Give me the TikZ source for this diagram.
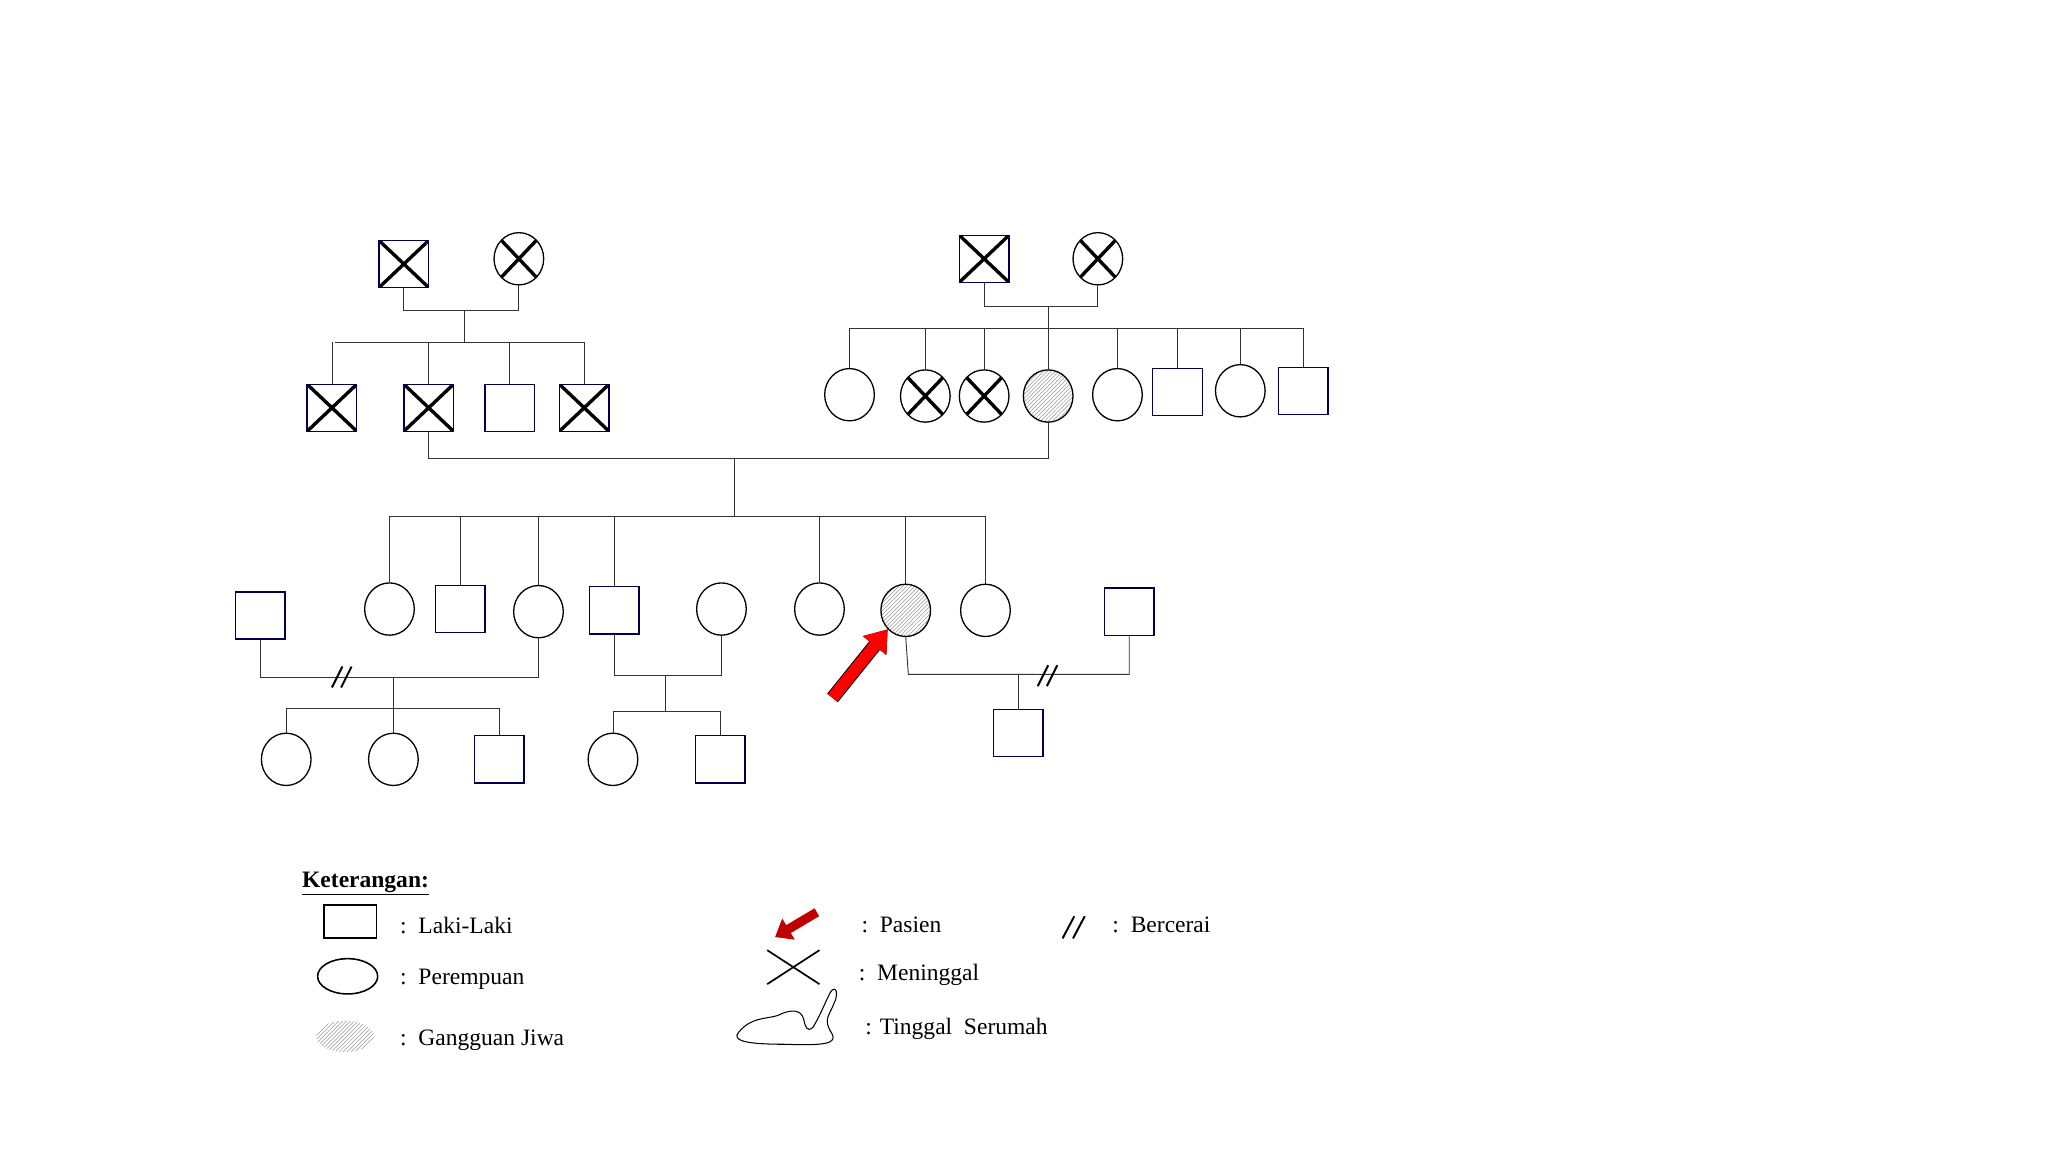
\documentclass[tikz,border=0pt]{standalone}
\usepackage{fontspec}
\setmainfont{Liberation Serif}
\usetikzlibrary{patterns,arrows.meta,shapes.geometric}
\begin{document}
\begin{tikzpicture}[x=1pt,y=-1pt,
  m/.style={draw=blue!30!black,line width=1pt,minimum width=38pt,minimum height=36pt,inner sep=0pt},
  f/.style={draw=black,line width=1pt,ellipse,minimum width=38pt,minimum height=40pt,inner sep=0pt},
  dead/.style={path picture={\draw[black,line width=2.6pt] (path picture bounding box.north west)--(path picture bounding box.south east) (path picture bounding box.north east)--(path picture bounding box.south west);}},
  ill/.style={pattern=north east lines,pattern color=gray!80},
  ln/.style={draw=black!80,line width=0.7pt},
  txt/.style={font=\fontsize{18}{20}\selectfont,anchor=west,inner sep=0pt},
  redarrow/.style={-{Triangle[length=16pt,width=22pt]},line width=9pt}]
\useasboundingbox (0,0) rectangle (1567,881.4);
% generation 1
\node[m,dead] (g1) at (309,202) {};
\node[f,dead] (g2) at (397,198) {};
\node[m,dead] (g3) at (753,198) {};
\node[f,dead] (g4) at (840,198) {};
% generation 2 left
\node[m,dead] (a1) at (254,312) {};
\node[m,dead] (a2) at (328,312) {};
\node[m] (a3) at (390,312) {};
\node[m,dead] (a4) at (447,312) {};
% generation 2 right
\node[f] (b1) at (650,302) {};
\node[f,dead] (b2) at (708,303) {};
\node[f,dead] (b3) at (753,303) {};
\node[f,ill] (b4) at (802,303) {};
\node[f] (b5) at (855,302) {};
\node[m] (b6) at (901,300) {};
\node[f] (b7) at (949,299) {};
\node[m] (b8) at (997,299) {};
% generation 3
\node[f] (c1) at (298,466) {};
\node[m] (c2) at (352,466) {};
\node[f] (c3) at (412,468) {};
\node[m] (c4) at (470,467) {};
\node[f] (c5) at (627,466) {};
\node[f,ill] (c6) at (693,467) {};
\node[f] (c7) at (754,467) {};
\node[m] (s1) at (199,471) {};
\node[f] (s2) at (552,466) {};
\node[m] (s3) at (864,468) {};
% generation 4
\node[f] (d1) at (219,581) {};
\node[f] (d2) at (301,581) {};
\node[m] (d3) at (382,581) {};
\node[f] (d4) at (469,581) {};
\node[m] (d5) at (551,581) {};
\node[m] (d6) at (779,561) {};
% junction coordinates
\coordinate (j1) at (355,238);
\coordinate (j2) at (802,234);
\coordinate (j3) at (562,351);
\coordinate (j4) at (301,518);
\coordinate (j5) at (509,517);
\coordinate (j6) at (779,516);
% gen1 left
\draw[ln] (g1.south) -- ++(0,17) -| (g2.south);
\draw[ln] (j1) -- (355,262);
\draw[ln] (256,262) -- (447,262);
\foreach \n in {a1,a2,a3,a4} \draw[ln] (\n.north) -- (\n.north |- 0,262);
% gen1 right
\draw[ln] (g3.south) -- ++(0,18) -| (g4.south);
\draw[ln] (j2) -- (802,251);
\draw[ln] (650,251) -- (997,251);
\foreach \n in {b1,b2,b3,b4,b5,b6,b7,b8} \draw[ln] (\n.north) -- (\n.north |- 0,251);
% marriage gen2
\draw[ln] (a2.south) -- (328,351) -- (802,351) -- (b4.south);
\draw[ln] (j3) -- (562,395);
\draw[ln] (298,395) -- (754,395);
\foreach \n in {c1,c2,c3,c4,c5,c6,c7} \draw[ln] (\n.north) -- (\n.north |- 0,395);
% marriage 1 (divorced)
\draw[ln] (s1.south) -- (199,518) -- (412,518) -- (c3.south);
\draw[line width=1.5pt] (254,526) -- (262,510) (261,526) -- (269,510);
\draw[ln] (j4) -- (301,542);
\draw[ln] (219,542) -- (382,542);
\foreach \n in {d1,d2,d3} \draw[ln] (\n.north) -- (\n.north |- 0,542);
% marriage 2
\draw[ln] (c4.south) -- (470,517) -- (s2.south |- 0,517) -- (s2.south);
\draw[ln] (j5) -- (509,544);
\draw[ln] (469,544) -- (551,544);
\foreach \n in {d4,d5} \draw[ln] (\n.north) -- (\n.north |- 0,544);
% marriage 3 (divorced)
\draw[ln] (c6.south) -- (695,516) -- (864,516) -- (s3.south);
\draw[line width=1.5pt] (794,525) -- (802,509) (801,525) -- (809,509);
\draw[ln] (j6) -- (d6.north);
% patient arrow
\coordinate (pa) at (637,534);
\draw[redarrow,draw=black,line width=10.5pt] (pa) -- (c6.south west);
\draw[redarrow,red] (pa) -- (c6.south west);
% legend
\node[txt,font=\fontsize{18}{20}\selectfont\bfseries] (k) at (231,676) {\underline{Keterangan:}};
\node[draw,line width=1.2pt,minimum width=40pt,minimum height=25pt,inner sep=0pt] (l1) at (268,705) {};
\node[txt] (t1) at (306,708) {:\ \ Laki-Laki};
\node[draw,ellipse,line width=1.2pt,minimum width=46pt,minimum height=27pt,inner sep=0pt] (l2) at (266,747) {};
\node[txt] (t2) at (306,749) {:\ \ Perempuan};
\node[ellipse,ill,minimum width=44pt,minimum height=24pt,inner sep=0pt] (l3) at (264,793) {};
\node[txt] (t3) at (306,796) {:\ \ Gangguan Jiwa};
\coordinate (pa2) at (625,698);
\coordinate (pb2) at (593,717);
\draw[-{Triangle[length=12pt,width=18pt]},line width=7pt,red!75!black] (pa2) -- (pb2);
\node[txt] (t4) at (659,708) {:\ \ Pasien};
\draw[line width=1.3pt] (587,727) -- (627,753) (587,753) -- (627,727);
\node[txt] (t5) at (657,746) {:\ \ Meninggal};
\draw[line width=0.8pt] (565,790) .. controls (560,796) and (570,799) .. (600,799)
  .. controls (630,800) and (642,799) .. (636,790) .. controls (630,780) and (634,778) .. (638,768)
  .. controls (643,758) and (638,752) .. (634,762) .. controls (630,770) and (627,778) .. (622,786)
  .. controls (618,790) and (616,786) .. (615,780) .. controls (613,772) and (605,772) .. (595,777)
  .. controls (585,780) and (575,778) .. (565,790) -- cycle;
\node[txt] (t6) at (662,787) {: Tinggal\ \ Serumah};
\draw[line width=1.5pt] (813,718) -- (822,701) (821,718) -- (830,701);
\node[txt] (t7) at (851,708) {:\ \ Bercerai};
\end{tikzpicture}
\end{document}
